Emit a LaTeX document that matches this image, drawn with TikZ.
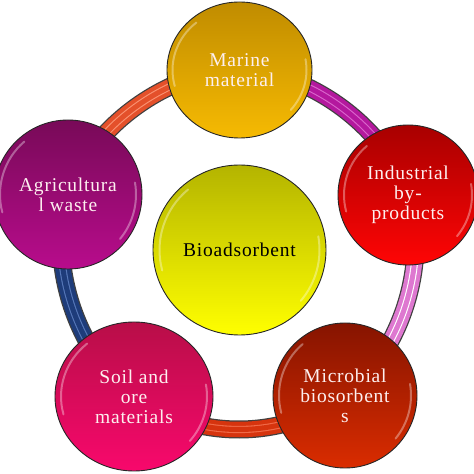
\documentclass[tikz,border=0pt]{standalone}
\usepackage{fontspec}
\setmainfont{Liberation Serif}
\newfontfamily\labfont{Liberation Serif}[LetterSpace=4]
\usetikzlibrary{shapes.geometric}
\pgfdeclarelayer{bg}
\pgfsetlayers{bg,main}
\definecolor{textw}{HTML}{FDEFEF}
\definecolor{marTop}{HTML}{C08C00}
\definecolor{marBot}{HTML}{F6BA02}
\definecolor{indTop}{HTML}{A80000}
\definecolor{indBot}{HTML}{FF0505}
\definecolor{agrTop}{HTML}{780A58}
\definecolor{agrBot}{HTML}{B80C8C}
\definecolor{bioTop}{HTML}{B4B400}
\definecolor{bioBot}{HTML}{FFFF00}
\definecolor{soiTop}{HTML}{B80E48}
\definecolor{soiBot}{HTML}{F8086C}
\definecolor{micTop}{HTML}{861400}
\definecolor{micBot}{HTML}{DA2C00}
\definecolor{tMI}{HTML}{B4189E}
\definecolor{sMI}{HTML}{DA66CC}
\definecolor{tIM}{HTML}{DE78D0}
\definecolor{sIM}{HTML}{FFFFFF}
\definecolor{tMS}{HTML}{D6340E}
\definecolor{sMS}{HTML}{F06A48}
\definecolor{tSA}{HTML}{1E3C7A}
\definecolor{sSA}{HTML}{5677B8}
\definecolor{tAM}{HTML}{E4502A}
\definecolor{sAM}{HTML}{FA9272}
\newcommand\mytube[5]{%
  \draw[line width=18pt, draw=black!75] (#1.center) to[bend left=36, looseness=#5] (#2.center);
  \draw[line width=15.5pt, draw=#3] (#1.center) to[bend left=36, looseness=#5] (#2.center);
  \draw[line width=1.1pt, draw=#4, double=#3, double distance=5pt] (#1.center) to[bend left=36, looseness=#5] (#2.center);
}
\newcommand\gloss[3]{%
  \draw[hl] (#1.center) ++(130:#2 and #3) arc[start angle=130, end angle=195, x radius=#2, y radius=#3];
  \draw[hl] (#1.center) ++(-40:#2 and #3) arc[start angle=-40, end angle=10, x radius=#2, y radius=#3];
}
\begin{document}
\begin{tikzpicture}[x=1pt,y=1pt,
  ball/.style={ellipse, draw=black!85, line width=0.9pt, inner sep=0pt, align=center,
    font=\labfont\fontsize{19.5}{20}\selectfont, text=textw},
  hl/.style={draw=white, opacity=0.35, line width=2pt, line cap=round}]
\useasboundingbox (0,0) rectangle (474,474);
\node[ball, minimum width=145pt, minimum height=136pt, top color=marTop, bottom color=marBot] (mar) at (239.5,404) {Marine\\material};
\node[ball, minimum width=140pt, minimum height=140pt, top color=indTop, bottom color=indBot] (ind) at (408,279) {Industrial\\by-\\products};
\node[ball, minimum width=148pt, minimum height=149pt, top color=agrTop, bottom color=agrBot] (agr) at (68,279.5) {Agricultura\\l waste};
\node[ball, minimum width=173pt, minimum height=170pt, top color=bioTop, bottom color=bioBot, text=black] (bio) at (239.5,224) {Bioadsorbent};
\node[ball, minimum width=158pt, minimum height=149pt, top color=soiTop, bottom color=soiBot] (soi) at (134,77.5) {Soil and\\ore\\materials};
\node[ball, minimum width=144pt, minimum height=145pt, top color=micTop, bottom color=micBot] (mic) at (345,78.5) {Microbial\\biosorbent\\s};
\gloss{mar}{67}{62}
\gloss{ind}{64}{64}
\gloss{agr}{68}{69}
\gloss{bio}{80}{79}
\gloss{soi}{73}{69}
\gloss{mic}{66}{67}
\begin{pgfonlayer}{bg}
\fill[white] (0,0) rectangle (474,474);
\mytube{mar}{ind}{tMI}{sMI}{0.85}
\mytube{ind}{mic}{tIM}{sIM}{0.85}
\mytube{mic}{soi}{tMS}{sMS}{0.92}
\mytube{soi}{agr}{tSA}{sSA}{0.85}
\mytube{agr}{mar}{tAM}{sAM}{0.85}
\end{pgfonlayer}
\end{tikzpicture}
\end{document}
